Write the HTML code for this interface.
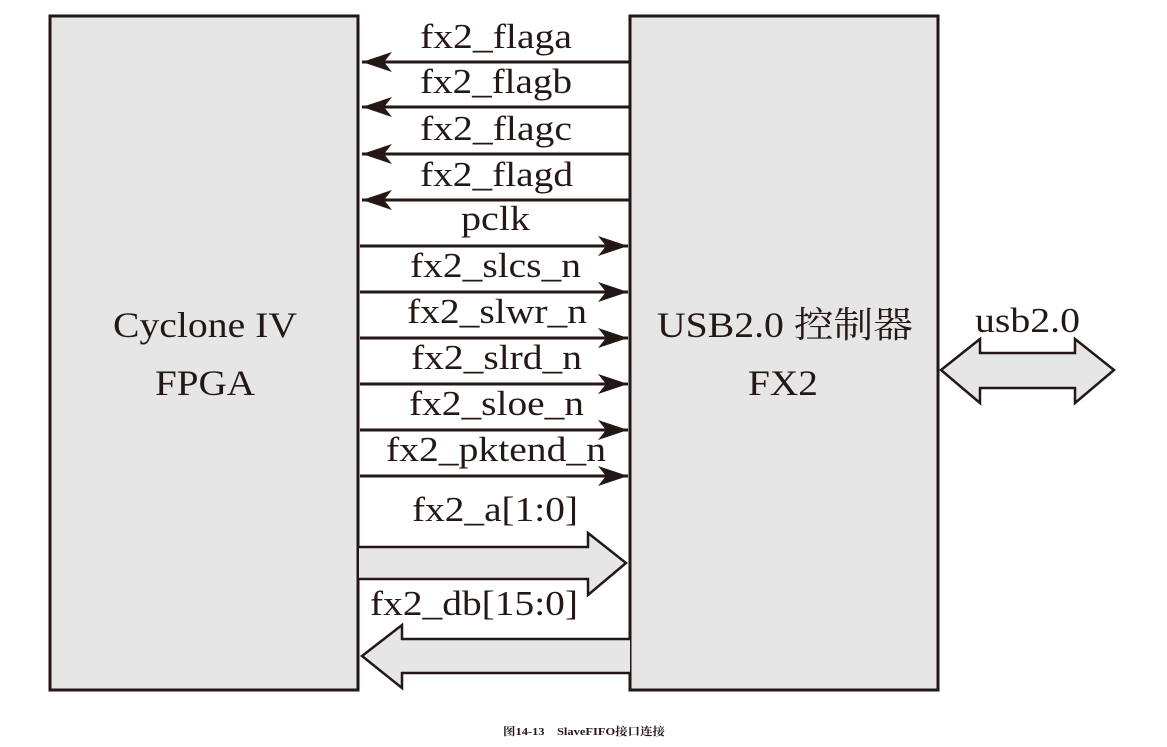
<!DOCTYPE html>
<html><head><meta charset="utf-8"><style>
html,body{margin:0;padding:0;background:#fff;}
svg{display:block;}
text{font-family:"Liberation Serif","Noto Serif CJK SC",serif;fill:#231815;}
</style></head><body>
<svg width="1167" height="747" viewBox="0 0 1167 747" xmlns="http://www.w3.org/2000/svg">
<defs>
<marker id="ah" viewBox="0 0 30 20" refX="30" refY="10" markerWidth="30" markerHeight="20" markerUnits="userSpaceOnUse" orient="auto">
<path d="M0,0 L30,10 L0,20 L8,10 Z" fill="#231815"/>
</marker>
</defs>
<rect x="50" y="16" width="308" height="674" fill="#e6e6e6" stroke="#231815" stroke-width="3"/>
<rect x="630" y="16" width="308" height="674" fill="#e6e6e6" stroke="#231815" stroke-width="3"/>
<g font-size="36" lengthAdjust="spacingAndGlyphs">
<text x="113" y="337" textLength="184" lengthAdjust="spacingAndGlyphs">Cyclone IV</text>
<text x="155" y="395" textLength="100" lengthAdjust="spacingAndGlyphs">FPGA</text>
<text x="657" y="337" textLength="256" lengthAdjust="spacingAndGlyphs">USB2.0 控制器</text>
<text x="748" y="395" textLength="70" lengthAdjust="spacingAndGlyphs">FX2</text>
</g>
<g stroke="#231815" stroke-width="3" fill="none">
<line x1="630" y1="62" x2="362" y2="62" marker-end="url(#ah)"/>
<line x1="630" y1="107" x2="362" y2="107" marker-end="url(#ah)"/>
<line x1="630" y1="154" x2="362" y2="154" marker-end="url(#ah)"/>
<line x1="630" y1="200" x2="362" y2="200" marker-end="url(#ah)"/>
<line x1="360" y1="246" x2="628" y2="246" marker-end="url(#ah)"/>
<line x1="360" y1="292" x2="628" y2="292" marker-end="url(#ah)"/>
<line x1="360" y1="338" x2="628" y2="338" marker-end="url(#ah)"/>
<line x1="360" y1="384" x2="628" y2="384" marker-end="url(#ah)"/>
<line x1="360" y1="430" x2="628" y2="430" marker-end="url(#ah)"/>
<line x1="360" y1="476" x2="628" y2="476" marker-end="url(#ah)"/>
</g>
<g font-size="35">
<text x="420" y="48" textLength="152" lengthAdjust="spacingAndGlyphs">fx2_flaga</text>
<text x="420" y="93" textLength="152" lengthAdjust="spacingAndGlyphs">fx2_flagb</text>
<text x="420" y="140" textLength="152" lengthAdjust="spacingAndGlyphs">fx2_flagc</text>
<text x="420" y="186" textLength="153" lengthAdjust="spacingAndGlyphs">fx2_flagd</text>
<text x="461" y="230" textLength="69" lengthAdjust="spacingAndGlyphs">pclk</text>
<text x="410" y="277" textLength="171" lengthAdjust="spacingAndGlyphs">fx2_slcs_n</text>
<text x="407" y="323" textLength="180" lengthAdjust="spacingAndGlyphs">fx2_slwr_n</text>
<text x="411" y="369" textLength="171" lengthAdjust="spacingAndGlyphs">fx2_slrd_n</text>
<text x="409" y="415" textLength="175" lengthAdjust="spacingAndGlyphs">fx2_sloe_n</text>
<text x="386" y="461" textLength="220" lengthAdjust="spacingAndGlyphs">fx2_pktend_n</text>
<text x="412" y="521" textLength="166" lengthAdjust="spacingAndGlyphs">fx2_a[1:0]</text>
<text x="370" y="615" textLength="208" lengthAdjust="spacingAndGlyphs">fx2_db[15:0]</text>
<text x="975" y="332" textLength="105" lengthAdjust="spacingAndGlyphs">usb2.0</text>
</g>
<g fill="#e6e6e6" stroke="#231815" stroke-width="2.5" stroke-linejoin="miter">
<path d="M359,547 L588,547 L588,533 L626,563 L588,595 L588,579 L359,579"/>
<path d="M630,639 L402,639 L402,625 L362,656 L402,688 L402,673 L630,673"/>
<path d="M941,370 L980,339 L980,353 L1075,353 L1075,339 L1114,370 L1075,403 L1075,388 L980,388 L980,403 Z"/>
</g>
<text x="503" y="735" font-size="11" font-weight="bold" textLength="162" lengthAdjust="spacingAndGlyphs">图14-13　SlaveFIFO接口连接</text>
</svg>
</body></html>
